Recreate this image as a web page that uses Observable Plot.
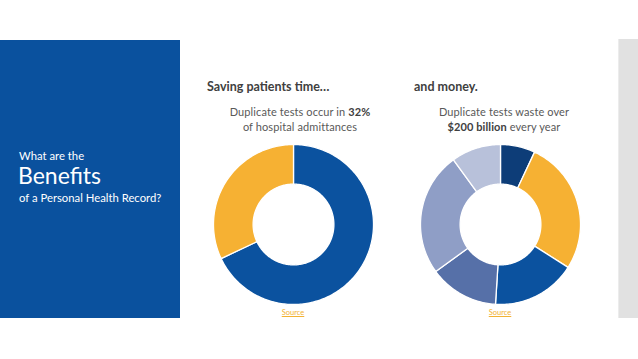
<!DOCTYPE html>
<html>
<head>
<meta charset="utf-8">
<script src="https://cdn.jsdelivr.net/npm/d3@7"></script>
<script src="https://cdn.jsdelivr.net/npm/@observablehq/plot@0.6"></script>
<style>
  html, body { margin: 0; padding: 0; background: #fff; }
  body { width: 638px; height: 359px; position: relative; overflow: hidden; font-family: Lato, "Open Sans", sans-serif; }
  .abs { position: absolute; }
  #panel { left: 0; top: 40px; width: 180px; height: 278px; background: #0A519E; color: #fff; }
  #strip { left: 618px; top: 39px; width: 20px; height: 279px; background: #E1E1E1; border-left: 1px solid #ECECEC; }
  .l1 { left: 19px; font-size: 11.3px; white-space: nowrap; }
  .big { left: 18px; font-size: 23px; white-space: nowrap; }
  .title { font-weight: bold; font-size: 12.5px; color: #404040; white-space: nowrap; }
  .sub { font-size: 11px; color: #595959; text-align: center; width: 200px; line-height: 15px; letter-spacing: 0.1px; }
  .sub b { color: #404040; }
  .src { font-size: 7.5px; color: #F2B233; text-decoration: underline; text-align: center; width: 60px; }
  .chart svg { overflow: visible; }
</style>
</head>
<body>
<div id="panel" class="abs">
  <div class="abs l1" style="top:109px">What are the</div>
  <div class="abs big" style="top:121px">Benefits</div>
  <div class="abs l1" style="top:151px">of a Personal Health Record?</div>
</div>
<div id="strip" class="abs"></div>

<div class="abs title" id="t1" style="left:207px; top:79px"></div>
<div class="abs title" id="t2" style="left:414px; top:79px"></div>
<div class="abs sub" style="left:200px; top:104px">Duplicate tests occur in <b>32%</b><br>of hospital admittances</div>
<div class="abs sub" style="left:404px; top:104px">Duplicate tests waste over<br><b>$200 billion</b> every year</div>

<div class="abs chart" id="c1" style="left:208px; top:139px"></div>
<div class="abs chart" id="c2" style="left:415px; top:139px"></div>

<div class="abs src" style="left:263px; top:308px">Source</div>
<div class="abs src" style="left:470px; top:308px">Source</div>

<script>
// ---- data ----
const titles = ["Saving patients time…", "and money."];

const timeLabels = ["No duplicate tests", "Duplicate tests"];
const timeValues = [68, 32];
const timeColors = ["#0B529F", "#F6B133"];

const moneyLabels = ["A", "B", "C", "D", "E", "F"];
const moneyValues = [7, 27, 17, 14, 25, 10];
const moneyColors = ["#0D3D78", "#F6B133", "#0B529F", "#5670A8", "#8F9EC6", "#B8C1DA"];

document.getElementById("t1").textContent = titles[0];
document.getElementById("t2").textContent = titles[1];

// Build slice outlines from the values (angles via d3.pie)
function donutRows(labels, values, inner) {
  const arcs = d3.pie().sort(null).value(d => d)(values);
  const rows = [];
  arcs.forEach((a, i) => {
    const n = Math.max(4, Math.ceil((a.endAngle - a.startAngle) / 0.02));
    for (let k = 0; k <= n; k++) {
      const t = a.startAngle + (a.endAngle - a.startAngle) * k / n;
      rows.push({slice: labels[i], x: Math.sin(t), y: Math.cos(t)});
    }
    for (let k = n; k >= 0; k--) {
      const t = a.startAngle + (a.endAngle - a.startAngle) * k / n;
      rows.push({slice: labels[i], x: inner * Math.sin(t), y: inner * Math.cos(t)});
    }
    rows.push({slice: labels[i], x: Math.sin(a.startAngle), y: Math.cos(a.startAngle)});
  });
  return rows;
}

function donut(labels, values, colors) {
  return Plot.plot({
    width: 170, height: 170, margin: 5,
    x: {domain: [-1.0, 1.0], axis: null},
    y: {domain: [-1.0, 1.0], axis: null},
    color: {domain: labels, range: colors},
    marks: [
      Plot.line(donutRows(labels, values, 0.505), {
        x: "x", y: "y", z: "slice", fill: "slice",
        stroke: "white", strokeWidth: 1.3, strokeOpacity: 1
      })
    ]
  });
}

document.getElementById("c1").appendChild(donut(timeLabels, timeValues, timeColors));
document.getElementById("c2").appendChild(donut(moneyLabels, moneyValues, moneyColors));
</script>
</body>
</html>
